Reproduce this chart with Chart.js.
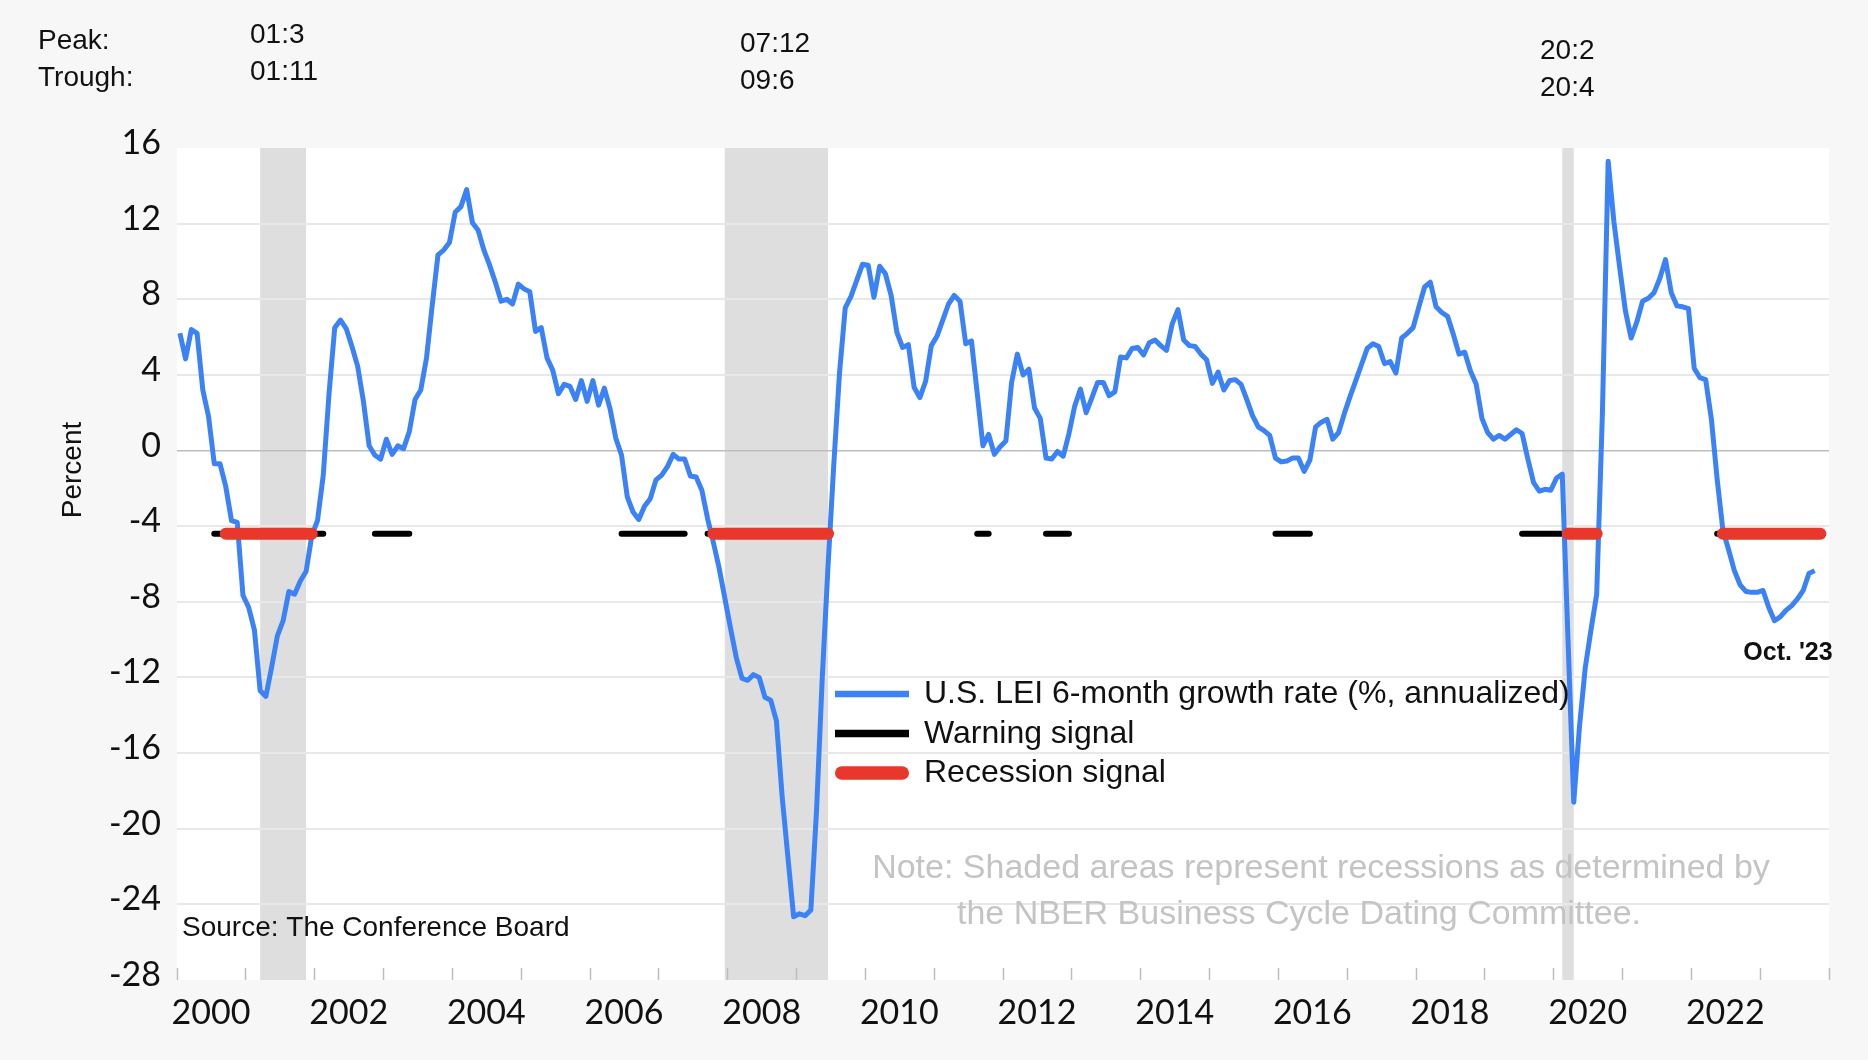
<!DOCTYPE html>
<html>
<head>
<meta charset="utf-8">
<script src="https://cdn.jsdelivr.net/npm/chart.js@4.4.0/dist/chart.umd.min.js"></script>
<style>
  html, body { margin: 0; padding: 0; background: #f7f7f7; }
  #wrap { width: 1868px; height: 1060px; }
</style>
</head>
<body>
<div id="wrap"><canvas id="myChart"></canvas></div>
<script>
// monthly series, Jan 2000 .. Oct 2023
const startYear = 2000;
const leiGrowth = [
  6.2, 4.85, 6.4, 6.2, 3.2, 1.8, -0.7, -0.7, -1.9, -3.7, -3.8, -7.65,
  -8.3, -9.5, -12.7, -13.0, -11.45, -9.8, -9.0, -7.45, -7.6, -6.9, -6.4, -4.5,
  -3.7, -1.3, 3.0, 6.5, 6.9, 6.45, 5.5, 4.45, 2.6, 0.25, -0.25, -0.45,
  0.6, -0.2, 0.25, 0.1, 1.0, 2.7, 3.2, 4.9, 7.7, 10.35, 10.6, 11.0,
  12.6, 12.9, 13.8, 12.05, 11.65, 10.6, 9.8, 8.9, 7.9, 8.0, 7.75, 8.8,
  8.55, 8.4, 6.3, 6.5, 4.9, 4.25, 3.0, 3.5, 3.4, 2.7, 3.7, 2.6,
  3.7, 2.4, 3.3, 2.2, 0.65, -0.25, -2.45, -3.25, -3.65, -2.95, -2.55, -1.55,
  -1.3, -0.85, -0.2, -0.45, -0.45, -1.35, -1.4, -2.1, -3.6, -4.85, -6.2, -7.8,
  -9.4, -10.95, -12.05, -12.15, -11.85, -12.0, -13.05, -13.2, -14.3, -18.3, -21.5, -24.65,
  -24.5, -24.6, -24.3, -19.0, -11.95, -6.1, -0.75, 4.1, 7.55, 8.15, 9.0, 9.85,
  9.8, 8.1, 9.75, 9.35, 8.2, 6.25, 5.45, 5.6, 3.35, 2.8, 3.65, 5.55,
  6.05, 6.9, 7.75, 8.2, 7.9, 5.65, 5.8, 3.05, 0.25, 0.85, -0.2, 0.2,
  0.5, 3.6, 5.1, 4.0, 4.3, 2.25, 1.7, -0.4, -0.45, -0.05, -0.3, 0.9,
  2.35, 3.25, 2.0, 2.8, 3.6, 3.6, 2.9, 3.1, 4.95, 4.9, 5.4, 5.45,
  5.05, 5.7, 5.85, 5.55, 5.3, 6.7, 7.45, 5.85, 5.55, 5.5, 5.1, 4.8,
  3.55, 4.15, 3.2, 3.7, 3.75, 3.5, 2.7, 1.85, 1.25, 1.05, 0.8, -0.4,
  -0.6, -0.55, -0.4, -0.4, -1.1, -0.5, 1.25, 1.5, 1.65, 0.6, 0.95, 1.95,
  2.85, 3.7, 4.55, 5.4, 5.65, 5.5, 4.6, 4.7, 4.1, 5.95, 6.2, 6.5,
  7.6, 8.65, 8.9, 7.6, 7.3, 7.1, 6.15, 5.1, 5.2, 4.2, 3.5, 1.7,
  0.95, 0.6, 0.8, 0.6, 0.85, 1.1, 0.9, -0.45, -1.7, -2.15, -2.05, -2.1,
  -1.45, -1.25, -10.0, -18.6, -14.6, -11.5, -9.5, -7.6, 2.0, 15.3, 12.1, 9.7,
  7.4, 5.95, 6.8, 7.9, 8.05, 8.35, 9.1, 10.1, 8.35, 7.65, 7.6, 7.5,
  4.35, 3.85, 3.75, 1.65, -1.5, -4.2, -5.25, -6.35, -7.1, -7.45, -7.5, -7.5,
  -7.4, -8.3, -9.0, -8.8, -8.45, -8.2, -7.85, -7.4, -6.5, -6.35
];

const signalLevel = -4.4;
const warningPeriods = [
  ['2000-07', '2002-02'], ['2002-11', '2003-05'], ['2006-06', '2007-05'],
  ['2007-09', '2009-06'], ['2011-08', '2011-10'], ['2012-08', '2012-12'],
  ['2015-12', '2016-06'], ['2019-07', '2020-03'], ['2022-05', '2022-06']
];
const recessionSignalPeriods = [
  ['2000-09', '2001-12'], ['2007-10', '2009-06'], ['2020-03', '2020-08'], ['2022-06', '2023-11']
];

// NBER recessions
const recessionPeaks = ['2001-03', '2007-12', '2020-02'];
const recessionTroughs = ['2001-11', '2009-06', '2020-04'];

const yearLabels = [2000, 2002, 2004, 2006, 2008, 2010, 2012, 2014, 2016, 2018, 2020, 2022];
const monthNames = ['Jan', 'Feb', 'Mar', 'Apr', 'May', 'Jun', 'Jul', 'Aug', 'Sep', 'Oct', 'Nov', 'Dec'];

function monthIndex(s) {
  const [y, m] = s.split('-').map(Number);
  return (y - startYear) * 12 + (m - 1);
}
function shortDate(s) {
  const [y, m] = s.split('-').map(Number);
  return String(y).slice(2) + ':' + m;
}
function signalSeries(periods) {
  const out = [];
  periods.forEach(([a, b]) => {
    for (let i = monthIndex(a); i <= monthIndex(b); i++) out.push({x: i + 0.5, y: signalLevel});
    out.push({x: monthIndex(b) + 1, y: null});
  });
  return out;
}

const leiPoints = leiGrowth.map((v, i) => ({x: i + 0.5, y: v}));
const lastIdx = leiGrowth.length - 1;
const lastLabel = monthNames[lastIdx % 12] + ". '" + String(startYear + Math.floor(lastIdx / 12)).slice(2);

const textFont = '"Liberation Sans", Arial, sans-serif';

const backdrop = {
  id: 'backdrop',
  beforeDraw(chart) {
    const {ctx, chartArea: a} = chart;
    const x = chart.scales.x;
    ctx.save();
    ctx.fillStyle = '#f7f7f7';
    ctx.fillRect(0, 0, chart.width, chart.height);
    ctx.fillStyle = '#ffffff';
    ctx.fillRect(a.left, a.top, a.right - a.left, a.bottom - a.top);
    ctx.fillStyle = '#dedede';
    recessionPeaks.forEach((p, k) => {
      const x0 = x.getPixelForValue(monthIndex(p) + 0.5);
      const x1 = x.getPixelForValue(monthIndex(recessionTroughs[k]) + 0.5);
      ctx.fillRect(x0, a.top, x1 - x0, a.bottom - a.top);
    });
    ctx.restore();
  }
};

const legendBox = {
  id: 'legendBox',
  afterDatasetsDraw(chart) {
    const ctx = chart.ctx;
    ctx.save();
    ctx.font = '32px ' + textFont;
    ctx.fillStyle = '#111';
    ctx.textBaseline = 'alphabetic';
    chart.data.datasets.forEach((ds, k) => {
      const y = 694 + k * 39.5;
      const w = ds.borderWidth + 1.5;
      const inset = ds.legendCap === 'round' ? w / 2 : 0;
      ctx.beginPath();
      ctx.strokeStyle = ds.borderColor;
      ctx.lineWidth = w;
      ctx.lineCap = ds.legendCap;
      ctx.moveTo(835 + inset, y);
      ctx.lineTo(909 - inset, y);
      ctx.stroke();
      ctx.fillText(ds.label, 924, y + 9);
    });
    ctx.restore();
  }
};

const notes = {
  id: 'notes',
  afterDraw(chart) {
    const ctx = chart.ctx;
    ctx.save();
    ctx.fillStyle = '#111';
    ctx.font = '28px ' + textFont;
    ctx.textAlign = 'left';
    ctx.textBaseline = 'alphabetic';
    ctx.fillText('Peak:', 38, 49);
    ctx.fillText('Trough:', 38, 86);
    const spots = [[250, 43], [740, 52], [1540, 59]];
    recessionPeaks.forEach((p, k) => {
      ctx.fillText(shortDate(p), spots[k][0], spots[k][1]);
      ctx.fillText(shortDate(recessionTroughs[k]), spots[k][0], spots[k][1] + 36.5);
    });

    ctx.fillText('Source: The Conference Board', 182, 936);

    ctx.save();
    ctx.translate(81, 470);
    ctx.rotate(-Math.PI / 2);
    ctx.textAlign = 'center';
    ctx.fillText('Percent', 0, 0);
    ctx.restore();

    ctx.font = 'bold 25px ' + textFont;
    ctx.textAlign = 'center';
    ctx.fillText(lastLabel, 1788, 660);

    ctx.fillStyle = '#c4c4c4';
    ctx.font = '34px ' + textFont;
    ctx.fillText('Note: Shaded areas represent recessions as determined by', 1321, 878);
    ctx.fillText('the NBER Business Cycle Dating Committee.', 1299, 924);
    ctx.restore();
  }
};

Chart.defaults.font.family = 'Lato, sans-serif';

const ctx = document.getElementById('myChart');

new Chart(ctx, {
  type: 'line',
  data: {
    datasets: [
      {
        label: 'U.S. LEI 6-month growth rate (%, annualized)',
        data: leiPoints,
        borderColor: '#3b82f6',
        borderWidth: 5,
        borderJoinStyle: 'round',
        legendCap: 'butt',
        pointRadius: 0,
        order: 1
      },
      {
        label: 'Warning signal',
        data: signalSeries(warningPeriods),
        borderColor: '#000000',
        borderWidth: 6,
        borderCapStyle: 'round',
        legendCap: 'butt',
        pointRadius: 0,
        spanGaps: false,
        order: 2
      },
      {
        label: 'Recession signal',
        data: signalSeries(recessionSignalPeriods),
        borderColor: '#e8372b',
        borderWidth: 12,
        borderCapStyle: 'round',
        legendCap: 'round',
        pointRadius: 0,
        spanGaps: false,
        order: 0
      }
    ]
  },
  options: {
    responsive: true,
    maintainAspectRatio: false,
    animation: false,
    events: [],
    layout: { padding: { top: 148, right: 39, left: 0, bottom: 0 } },
    plugins: {
      legend: { display: false },
      tooltip: { enabled: false }
    },
    scales: {
      x: {
        type: 'linear',
        min: 0,
        max: 288,
        afterFit(s) { s.height = 80; },
        border: { display: false },
        grid: {
          drawOnChartArea: false,
          drawTicks: true,
          tickLength: -12,
          tickColor: '#bdbdbd',
          tickWidth: 1.5
        },
        ticks: {
          stepSize: 12,
          maxTicksLimit: 40,
          autoSkip: false,
          maxRotation: 0,
          minRotation: 0,
          labelOffset: 34,
          padding: 25,
          color: '#111',
          font: { size: 34 },
          callback: (v) => {
            const yr = startYear + v / 12;
            return yearLabels.includes(yr) ? String(yr) : '';
          }
        }
      },
      y: {
        min: -28,
        max: 16,
        afterFit(s) { s.width = 177; },
        border: { display: false },
        grid: {
          drawTicks: false,
          color: (c) => {
            const v = c.tick ? c.tick.value : null;
            if (v === 0) return '#bdbdbd';
            if (v === 16 || v === -28) return 'rgba(0,0,0,0)';
            return '#e8e8e8';
          },
          lineWidth: (c) => (c.tick && c.tick.value === 0 ? 1.5 : 2)
        },
        ticks: {
          stepSize: 4,
          maxTicksLimit: 40,
          padding: 16,
          labelOffset: -5,
          color: '#111',
          font: { size: 34 }
        }
      }
    }
  },
  plugins: [backdrop, legendBox, notes]
});
</script>
</body>
</html>
